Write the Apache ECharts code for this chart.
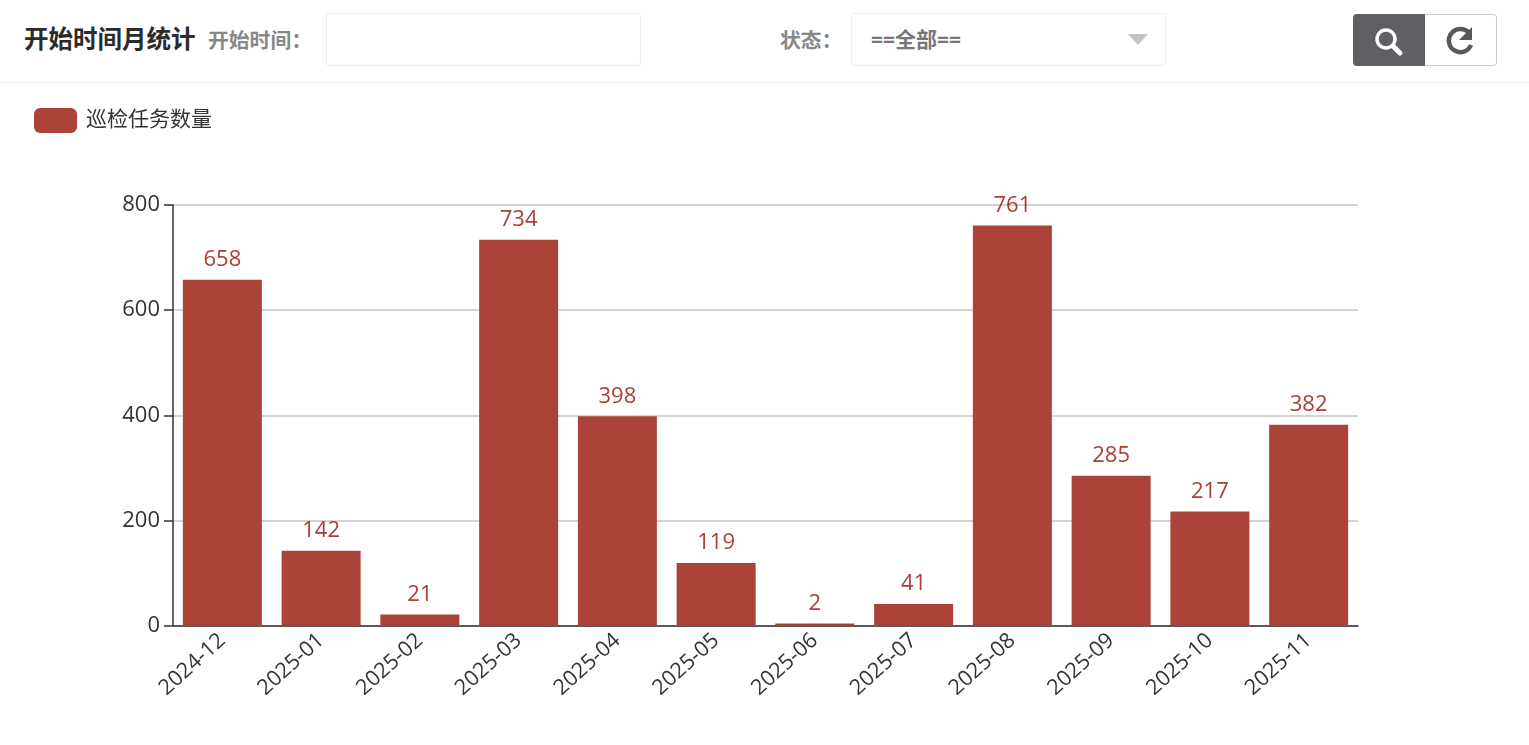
<!DOCTYPE html>
<html>
<head>
<meta charset="utf-8">
<title>开始时间月统计</title>
<script src="https://cdn.jsdelivr.net/npm/echarts@6/dist/echarts.min.js"></script>
<style>
html, body { margin: 0; padding: 0; background: #fff; width: 1529px; height: 745px; overflow: hidden; font-family: "Open Sans", "Noto Sans CJK SC", sans-serif; }
#toolbar { position: absolute; left: 0; top: 0; width: 1529px; height: 82px; border-bottom: 1px solid #eee; }
#toolbar div, #toolbar span { position: absolute; box-sizing: border-box; }
.title { left: 24px; top: 23px; font-size: 24.5px; line-height: 32px; font-weight: 700; color: #2b2b2b; white-space: nowrap; }
.lbl { top: 25.5px; font-size: 20.8px; line-height: 28px; font-weight: 700; color: #888; white-space: nowrap; }
.box { top: 13px; height: 53px; border: 1px solid #eee; border-radius: 3px; background: #fff; }
.val { left: 871px; top: 25px; font-size: 21px; line-height: 28px; font-weight: 700; color: #777; white-space: nowrap; }
.arrow { left: 1128px; top: 34px; width: 0; height: 0; border-left: 10px solid transparent; border-right: 10px solid transparent; border-top: 11px solid #c4c4c4; }
.btn { top: 14px; height: 52px; }
.btn svg { position: absolute; left: 0; top: 0; }
#chart { position: absolute; left: 0; top: 83px; width: 1529px; height: 662px; }
</style>
</head>
<body>
<div id="toolbar">
  <div class="title">开始时间月统计</div>
  <div class="lbl" style="left:208px">开始时间：</div>
  <div class="box" style="left:326px;width:315px"></div>
  <div class="lbl" style="left:780px">状态：</div>
  <div class="box" style="left:851px;width:315px"></div>
  <div class="val">==全部==</div>
  <div class="arrow"></div>
  <div class="btn" style="left:1353px;width:72px;background:#606064;border-radius:4px 0 0 4px">
    <svg width="72" height="52"><circle cx="33" cy="25" r="9" fill="none" stroke="#fff" stroke-width="3.5"/><line x1="40" y1="32" x2="47" y2="39" stroke="#fff" stroke-width="5" stroke-linecap="round"/></svg>
  </div>
  <div class="btn" style="left:1425px;width:72px;border:1px solid #ccc;border-left:0;border-radius:0 4px 4px 0">
    <svg width="72" height="52"><path d="M44 18 A11.5 11.5 0 1 0 46 30" fill="none" stroke="#5a5a55" stroke-width="4.5"/><polygon points="47,12 47,25 34,25" fill="#5a5a55"/></svg>
  </div>
</div>
<div id="chart"></div>
<script>
var seriesName = '巡检任务数量';
var months = ['2024-12', '2025-01', '2025-02', '2025-03', '2025-04', '2025-05', '2025-06', '2025-07', '2025-08', '2025-09', '2025-10', '2025-11'];
var taskCounts = [658, 142, 21, 734, 398, 119, 2, 41, 761, 285, 217, 382];

var chart = echarts.init(document.getElementById('chart'));
var textFont = '"Open Sans", "Noto Sans CJK SC", sans-serif';
chart.setOption({
  animation: false,
  color: ['#ab4339'],
  legend: {
    left: 29,
    top: 20,
    itemWidth: 43,
    itemHeight: 25,
    textStyle: { fontSize: 21, color: '#333', fontFamily: textFont, padding: [0, 0, 2, 4] },
    data: [seriesName]
  },
  grid: { left: 173, right: 171, top: 122, bottom: 119.5 },
  xAxis: {
    type: 'category',
    data: months,
    axisLine: { lineStyle: { color: '#333', width: 1.5 } },
    axisTick: { length: 8, lineStyle: { color: '#333', width: 1.5 } },
    axisLabel: { rotate: 42, interval: 0, fontSize: 21.5, color: '#333', margin: 12, fontFamily: textFont }
  },
  yAxis: {
    type: 'value',
    min: 0,
    max: 800,
    interval: 200,
    axisLine: { show: true, lineStyle: { color: '#333', width: 1.5 } },
    axisTick: { show: true, length: 9, lineStyle: { color: '#333', width: 1.5 } },
    axisLabel: { fontSize: 22, color: '#333', margin: 13, padding: [0, 0, 4, 0], fontFamily: textFont },
    splitLine: { lineStyle: { color: '#c4c4c4', width: 1.5 } }
  },
  series: [{
    name: seriesName,
    type: 'bar',
    data: taskCounts,
    barCategoryGap: '20%',
    barMinHeight: 2,
    label: { show: true, position: 'top', distance: 9, fontSize: 22, color: '#ab3f36', fontFamily: textFont }
  }]
});
</script>
</body>
</html>
